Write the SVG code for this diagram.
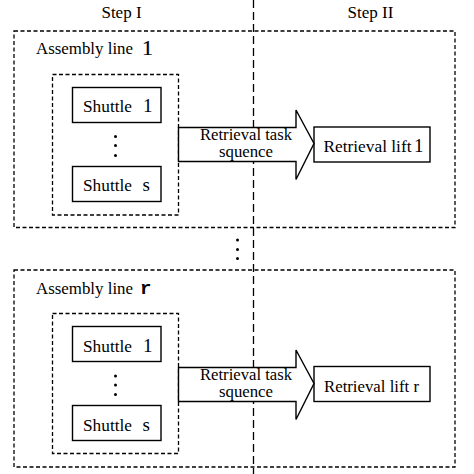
<svg xmlns="http://www.w3.org/2000/svg" width="474" height="474" viewBox="0 0 474 474">
<style>
.bg{fill:#fff}
.dash{fill:none;stroke:#000;stroke-width:1.3;stroke-dasharray:4 2.5}
.vline{fill:none;stroke:#000;stroke-width:1.3;stroke-dasharray:8 4}
.box{fill:#fff;stroke:#000;stroke-width:1.4}
.arrow{fill:#fff;stroke:#000;stroke-width:1.4;stroke-linejoin:miter}
text{font-family:"Liberation Serif","Times New Roman",serif;fill:#000}
.t16{font-size:17px}
.t15{font-size:16px}
.step{font-size:17px;text-anchor:middle}
.num{font-size:19px}
.dot{fill:#000}
</style>
<rect class="bg" x="0" y="0" width="474" height="474"/>
<g id="header">
<text class="step" x="121.5" y="18">Step I</text>
<text class="step" x="370.5" y="18">Step II</text>
</g>
<g id="divider">
<line class="vline" x1="253.5" y1="0" x2="253.5" y2="474"/>
</g>
<g id="line1">
<rect class="dash" x="14" y="31" width="441" height="196.5"/>
<text class="t16" x="36" y="54" textLength="97" lengthAdjust="spacingAndGlyphs">Assembly line</text>
<text x="142" y="55" style="font-size:22px;stroke:#000;stroke-width:0.2">1</text>
<g id="group1">
<rect class="dash" x="52.5" y="74.5" width="126" height="140.5"/>
<g id="shuttle1a">
<rect class="box" x="72.5" y="87.5" width="88.5" height="35"/>
<text class="t16" x="83" y="112" textLength="49" lengthAdjust="spacingAndGlyphs">Shuttle</text>
<text class="num" x="143" y="112">1</text>
</g>
<circle class="dot" cx="115.5" cy="136.5" r="1.5"/>
<circle class="dot" cx="115.5" cy="145.5" r="1.5"/>
<circle class="dot" cx="115.5" cy="155.5" r="1.5"/>
<g id="shuttleSa">
<rect class="box" x="72.5" y="166.5" width="88.5" height="35"/>
<text class="t16" x="83" y="191" textLength="49" lengthAdjust="spacingAndGlyphs">Shuttle</text>
<text x="142.5" y="191" style="font-size:19px">s</text>
</g>
</g>
<g id="lift1">
<rect class="box" x="314" y="127" width="116" height="35"/>
<text class="t16" x="323.5" y="152" textLength="88" lengthAdjust="spacingAndGlyphs">Retrieval lift</text>
<text class="num" x="414" y="152">1</text>
</g>
</g>
<g id="middots">
<circle class="dot" cx="237.5" cy="240" r="1.5"/>
<circle class="dot" cx="237.5" cy="249.5" r="1.5"/>
<circle class="dot" cx="237.5" cy="258.5" r="1.5"/>
</g>
<g id="line2">
<rect class="dash" x="14" y="270" width="441" height="197"/>
<text class="t16" x="36" y="294" textLength="97" lengthAdjust="spacingAndGlyphs">Assembly line</text>
<text x="140" y="294" style="font-size:19px;font-weight:bold;font-family:'Liberation Mono',monospace">r</text>
<g id="group2">
<rect class="dash" x="52.5" y="313.5" width="126" height="140"/>
<g id="shuttle1b">
<rect class="box" x="72.5" y="326.5" width="88.5" height="35"/>
<text class="t16" x="83" y="352" textLength="49" lengthAdjust="spacingAndGlyphs">Shuttle</text>
<text class="num" x="143" y="352">1</text>
</g>
<circle class="dot" cx="115.5" cy="376" r="1.5"/>
<circle class="dot" cx="115.5" cy="385" r="1.5"/>
<circle class="dot" cx="115.5" cy="394.5" r="1.5"/>
<g id="shuttleSb">
<rect class="box" x="72.5" y="405.5" width="88.5" height="35"/>
<text class="t16" x="83" y="431" textLength="49" lengthAdjust="spacingAndGlyphs">Shuttle</text>
<text x="142.5" y="431" style="font-size:19px">s</text>
</g>
</g>
<g id="lift2">
<rect class="box" x="314" y="366.5" width="116" height="35"/>
<text class="t16" x="324" y="392" textLength="95" lengthAdjust="spacingAndGlyphs">Retrieval lift r</text>
</g>
</g>
<g id="connectors">
<g id="arrow1">
<polygon class="arrow" points="178.5,127.5 296,127.5 296,110 314,143.5 296,179.5 296,161.5 178.5,161.5"/>
<text class="t15" x="246" y="139.5" text-anchor="middle" textLength="92" lengthAdjust="spacingAndGlyphs">Retrieval task</text>
<text class="t15" x="246" y="156.5" text-anchor="middle" textLength="54" lengthAdjust="spacingAndGlyphs">squence</text>
</g>
<g id="arrow2">
<polygon class="arrow" points="178.5,367.5 296,367.5 296,350 314,383.5 296,419.5 296,401.5 178.5,401.5"/>
<text class="t15" x="246" y="379.5" text-anchor="middle" textLength="92" lengthAdjust="spacingAndGlyphs">Retrieval task</text>
<text class="t15" x="246" y="396.5" text-anchor="middle" textLength="54" lengthAdjust="spacingAndGlyphs">squence</text>
</g>
</g>
</svg>
